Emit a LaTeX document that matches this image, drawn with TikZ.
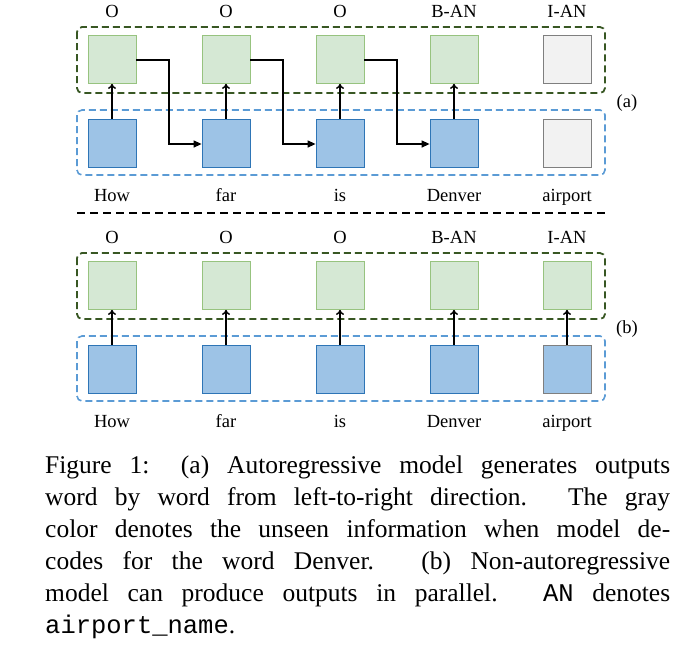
\documentclass[tikz,border=0pt]{standalone}
\usepackage{fontspec}
\setmainfont{Liberation Serif}
\setmonofont{Liberation Mono}
\usetikzlibrary{arrows.meta}
\definecolor{gfill}{HTML}{D5E8D4}\definecolor{gdraw}{HTML}{97C37F}
\definecolor{bfill}{HTML}{9DC3E6}\definecolor{bdraw}{HTML}{2E75B6}
\definecolor{gyfill}{HTML}{F2F2F2}\definecolor{gydraw}{HTML}{7F7F7F}
\definecolor{gdash}{HTML}{385723}\definecolor{bdash}{HTML}{5B9BD5}
\begin{document}
\begin{tikzpicture}[x=1pt,y=-1pt,
 gbox/.style={draw=gdraw,fill=gfill,minimum size=48pt,inner sep=0pt,line width=0.8pt},
 bbox/.style={draw=bdraw,fill=bfill,minimum size=48pt,inner sep=0pt,line width=0.8pt},
 ybox/.style={draw=gydraw,fill=gyfill,minimum size=48pt,inner sep=0pt,line width=0.6pt},
 lab/.style={font=\fontsize{18.5}{18.5}\selectfont,inner sep=0pt,anchor=base},
 up/.style={-{To[length=5pt,width=8pt]},line width=1.5pt},
 rt/.style={-{Triangle[length=8pt,width=7pt]},line width=1.3pt},
 gd/.style={draw=gdash,dashed,dash pattern=on 7pt off 4pt,line width=1.8pt,rounded corners=5pt},
 bd/.style={draw=bdash,dashed,dash pattern=on 7pt off 4pt,line width=1.6pt,rounded corners=5pt}]
\useasboundingbox (0,0) rectangle (682,665);
\foreach \p/\o in {a/0,b/226}{
 \draw[gd] (77,27+\o) rectangle (605,93+\o);
 \draw[bd] (77,110+\o) rectangle (605,175+\o);
}
\draw[line width=2.2pt,dash pattern=on 8pt off 5pt] (77,213) -- (605,213);
\foreach \i/\x/\w/\t in {1/112/How/O,2/226/far/O,3/340/is/O,4/454/Denver/B-AN}{
 \node[gbox] (ga\i) at (\x,59.5) {};
 \node[bbox] (ba\i) at (\x,143) {};
 \node[gbox] (gb\i) at (\x,285.5) {};
 \node[bbox] (bb\i) at (\x,369) {};
 \node[lab] (ta\i) at (\x,17) {\t};
 \node[lab] (wa\i) at (\x,201) {\w};
 \node[lab] (tb\i) at (\x,243) {\t};
 \node[lab] (wb\i) at (\x,427) {\w};
 \draw[up] (ba\i) -- (ga\i);
 \draw[up] (bb\i) -- (gb\i);
}
\node[ybox] (ga5) at (567,59.5) {};
\node[ybox] (ba5) at (567,143) {};
\node[gbox] (gb5) at (567,285.5) {};
\node[bbox,draw=gydraw] (bb5) at (567,369) {};
\node[lab] (ta5) at (567,17) {I-AN};
\node[lab] (wa5) at (567,201) {airport};
\node[lab] (tb5) at (567,243) {I-AN};
\node[lab] (wb5) at (567,427) {airport};
\draw[up] (bb5) -- (gb5);
\foreach \i/\j/\m in {1/2/169,2/3/283,3/4/397}{
 \draw[rt] (ga\i.east |- 0,60) -- (\m,60) |- (ba\j.west |- 0,144);
}
\node[lab] (la) at (627,107) {(a)};
\node[lab] (lb) at (627,333) {(b)};
\node[anchor=north west,inner sep=0pt,text width=625pt,align=justify,
 font=\fontsize{25.5}{32}\selectfont] (cap) at (45,456) {%
Figure 1: (a) Autoregressive model generates outputs\linebreak
word by word from left-to-right direction. The gray\linebreak
color denotes the unseen information when model de-\linebreak
codes for the word Denver. (b) Non-autoregressive\linebreak
model can produce outputs in parallel. \texttt{AN} denotes\linebreak
\texttt{airport\_name}.};
\end{tikzpicture}
\end{document}
